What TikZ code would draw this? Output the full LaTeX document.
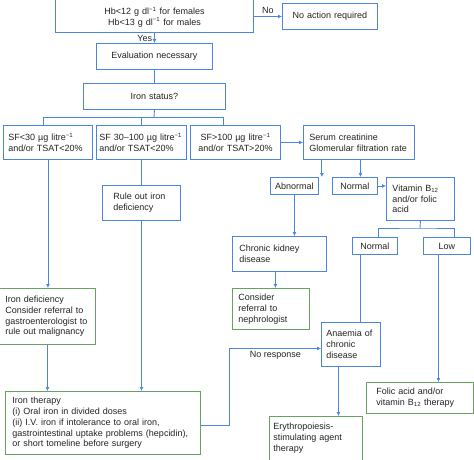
\documentclass[tikz,border=0pt]{standalone}
\usepackage{fontspec}
\setmainfont{Liberation Sans}
\usepackage{tikz}
\usetikzlibrary{arrows.meta, positioning}

\definecolor{lineblue}{RGB}{74,134,222}
\definecolor{boxgreen}{RGB}{104,162,96}
\definecolor{txt}{RGB}{35,35,35}

\begin{document}
\begin{tikzpicture}[x=1pt, y=-1pt,
    box/.style={draw=lineblue, line width=0.9pt, inner sep=0pt, anchor=north west,
        align=left, text=txt, font=\fontsize{9}{10.8}\selectfont},
    gbox/.style={box, draw=boxgreen},
    sz/.style n args={3}{minimum width=#1, minimum height=#2, text width=#3},
    link/.style={draw=lineblue, line width=0.9pt},
    arr/.style={link, -{Latex[length=4pt, width=4pt]}},
    lbl/.style={text=txt, font=\fontsize{9}{10.8}\selectfont, inner sep=2pt}]
    \useasboundingbox (0,0) rectangle (474,460);

    % Screening
    \node[box, sz={198}{42}{190}, align=center] (hb) at (55,-10)
        {\strut\\Hb<12 g dl\textsuperscript{−1} for females\\Hb<13 g dl\textsuperscript{−1} for males};
    \node[box, sz={95}{26}{91}, align=center] (noact) at (282,3) {No action required};
    \node[box, sz={116}{26}{110}, align=center] (eval) at (96,43) {Evaluation necessary};
    \node[box, sz={142}{26}{136}, align=center] (iron) at (83,83) {Iron status?};

    % Iron status rows
    \node[box, sz={89}{34}{79}] (sfa) at (3,125) {SF<30 µg litre\textsuperscript{−1}\\and/or TSAT<20\%};
    \node[box, sz={90}{34}{84}] (sfb) at (96,125) {SF 30–100 µg litre\textsuperscript{−1}\\and/or TSAT<20\%};
    \node[box, sz={90}{34}{86}, align=center] (sfc) at (190,125) {SF>100 µg litre\textsuperscript{−1}\\and/or TSAT>20\%};
    \node[box, sz={111}{34}{99}] (serum) at (303,125) {Serum creatinine\\Glomerular filtration rate};

    % Renal branch
    \node[box, sz={48}{17}{46}, align=center] (abn) at (270,177) {Abnormal};
    \node[box, sz={45}{17}{43}, align=center] (nrm) at (332,177) {Normal};
    \node[box, sz={68}{43}{56}] (vit) at (386,177) {Vitamin B\textsubscript{12}\\and/or folic\\acid};
    \node[box, sz={78}{35}{56}] (rule) at (102,185) {Rule out iron\\deficiency};
    \node[box, sz={94}{35}{80}] (ckd) at (232,236) {Chronic kidney\\disease};
    \node[box, sz={45}{17}{43}, align=center] (nrm2) at (352,237) {Normal};
    \node[box, sz={47}{17}{45}, align=center] (low) at (423,237) {Low};
    \node[box, sz={59}{44}{49}] (anaemia) at (321,322) {Anaemia of\\chronic\\disease};

    % Outcomes
    \node[gbox, sz={96}{56}{84}] (irondef) at (-1,288)
        {Iron deficiency\\Consider referral to\\gastroenterologist to\\rule out malignancy};
    \node[gbox, sz={77}{41}{65}] (consider) at (232,288) {Consider\\referral to\\nephrologist};
    \node[gbox, sz={107}{31}{87}] (folic) at (366,382) {Folic acid and/or\\vitamin B\textsubscript{12} therapy};
    \node[gbox, sz={93}{56}{85}] (esa) at (269,416)
        {Erythropoiesis-\\stimulating agent\\therapy\\\strut};
    \node[gbox, sz={195}{63}{181}] (therapy) at (5,391)
        {Iron therapy\\(i) Oral iron in divided doses\\(ii) I.V. iron if intolerance to oral iron,\\gastrointestinal uptake problems (hepcidin),\\or short tomeline before surgery};

    % Top connectors
    \draw[arr] (hb.east |- noact.west) -- (noact.west) node[midway, above, lbl] {No};
    \draw[arr] (hb.south) -- (eval.north) node[midway, left, lbl] {Yes};
    \draw[link] (eval.south) -- (iron.north);
    \coordinate (fork) at (154,117);
    \draw[link] (iron.south) -- (fork);
    \draw[link] ([xshift=-4.5pt]sfa.north |- fork) -- ([xshift=-12pt]sfc.north |- fork);
    \foreach \b/\dx in {sfa/-4.5, sfb/0, sfc/-12} {
        \draw[link] ([xshift=\dx pt]\b.north |- fork) -- ([xshift=\dx pt]\b.north);
    }
    \draw[arr] (sfc.east) -- (serum.west);

    % Renal connectors
    \draw[arr] ([xshift=3pt]abn.north east |- serum.south) -- ([xshift=3pt]abn.north east);
    \draw[arr] ([xshift=5.5pt]nrm.north |- serum.south) -- ([xshift=5.5pt]nrm.north);
    \draw[arr] (nrm.east) -- (nrm.east -| vit.west);
    \coordinate (vfork) at (420,228);
    \draw[link] (vit.south) -- (vfork);
    \draw[link] ([xshift=3.5pt]nrm2.north) |- (vfork) -| ([xshift=7.5pt]low.north);
    \draw[arr] (abn.south) -- (abn.south |- ckd.north);
    \draw[arr] ([xshift=-4pt]ckd.south) -- ([xshift=-4pt]ckd.south |- consider.north);
    \draw[link] ([xshift=-14.5pt]nrm2.south) -- ([xshift=-14.5pt]nrm2.south |- anaemia.north);
    \draw[arr] ([xshift=-8.5pt]low.south) -- ([xshift=-8.5pt]low.south |- folic.north);
    \draw[arr] ([xshift=-12.5pt]anaemia.south) -- ([xshift=-12.5pt]anaemia.south |- esa.north);

    % Iron connectors
    \draw[arr] (sfa.south) -- (sfa.south |- irondef.north);
    \draw[link] (sfb.south) -- (rule.north);
    \draw[arr] (rule.south) -- (rule.south |- therapy.north);
    \draw[arr] (irondef.south) -- (irondef.south |- therapy.north);
    \draw[arr] ([yshift=-2.5pt]therapy.east) -- ++(29pt,0) |- ([yshift=-4pt]anaemia.west)
        node[pos=0.75, below, lbl] {No response};
\end{tikzpicture}
\end{document}
